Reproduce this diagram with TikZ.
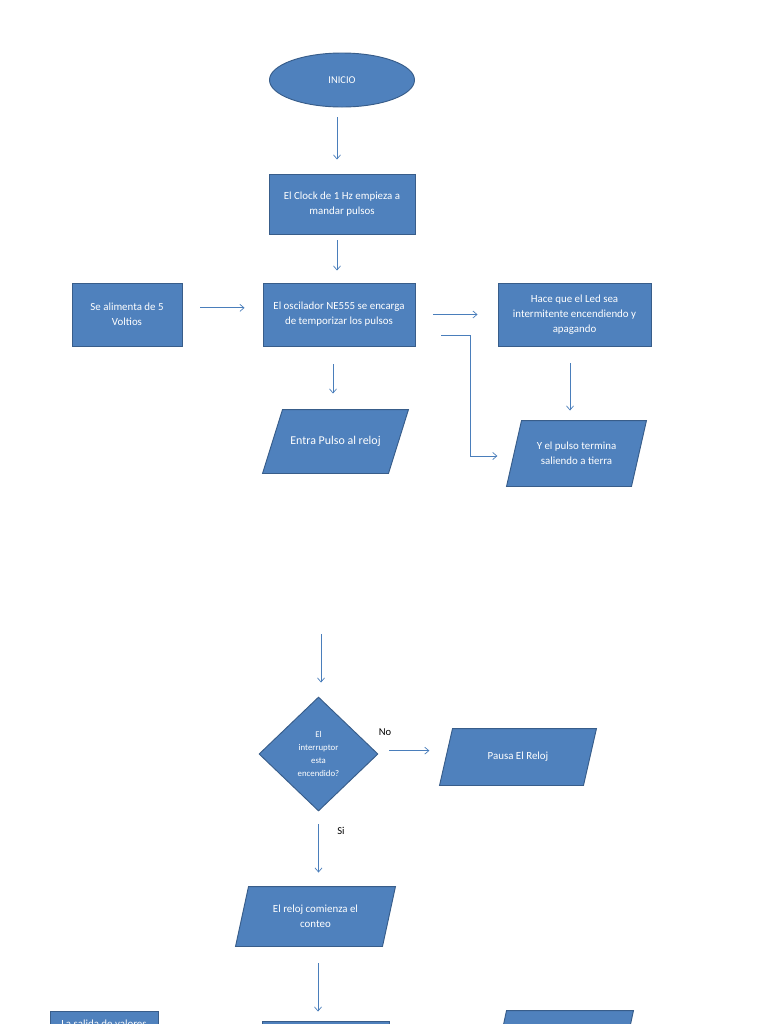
\documentclass[tikz,border=0pt]{standalone}
\usepackage{fontspec}
\setmainfont{Carlito}
\usepackage{xcolor}
\definecolor{fblue}{RGB}{79,129,189}
\definecolor{dblue}{RGB}{56,93,138}
\definecolor{ablue}{RGB}{74,126,187}
\usepackage{tikz}
\usetikzlibrary{arrows.meta,shapes.geometric,calc,backgrounds}
% parallelogram drawn behind a text node: #1 node name, #2 slant
\newcommand{\ioframe}[2]{%
  \begin{scope}[on background layer]
    \draw[draw=dblue,line width=0.8pt,fill=fblue]
      ([xshift=-#2/2]#1.south west) -- ([xshift=#2/2]#1.north west) --
      ([xshift=#2/2]#1.north east) -- ([xshift=-#2/2]#1.south east) -- cycle;
  \end{scope}}

\begin{document}
\begin{tikzpicture}[
  x=0.03cm, y=-0.03cm,
  base/.style={draw=dblue,line width=0.8pt,fill=fblue,text=white,align=center,inner sep=2pt,font=\fontsize{9.3}{12.8}\selectfont},
  pbox/.style={base,rectangle},
  obox/.style={base,ellipse,font=\fontsize{8.9}{12}\selectfont},
  dbox/.style={base,diamond,inner sep=0pt,font=\fontsize{7.5}{11}\selectfont},
  iobox/.style={base,rectangle,draw=none,fill=none},
  lbl/.style={font=\fontsize{9}{11}\selectfont},
  arrow/.style={-{Straight Barb[length=3.5pt,width=6pt]},ablue,line width=0.6pt}
]
  \useasboundingbox (0,0) rectangle (768,1024);
  \clip (0,0) rectangle (768,1024);

  % Inicio
  \node[obox,minimum width=4.35cm,minimum height=1.62cm] (inicio) at (342,80) {INICIO};
  \node[pbox,minimum width=4.38cm,minimum height=1.8cm] (clock) at (342,204) {El Clock de 1 Hz empieza a\\mandar pulsos};

  % Oscilador
  \node[pbox,minimum width=3.3cm,minimum height=1.89cm] (alim) at (127,314.5) {Se alimenta de 5\\Voltios};
  \node[pbox,minimum width=4.56cm,minimum height=1.89cm] (osc) at (339,314.5) {El oscilador NE555 se encarga\\de temporizar los pulsos};
  \node[pbox,minimum width=4.59cm,minimum height=1.89cm] (led) at (574.5,314.5) {Hace que el Led sea\\intermitente encendiendo y\\apagando};
  \node[iobox,minimum width=3.75cm,minimum height=1.89cm,font=\fontsize{10.2}{13}\selectfont] (entra) at (335.5,441.5) {Entra Pulso al reloj};
  \ioframe{entra}{0.6cm}
  \node[iobox,minimum width=3.72cm,minimum height=1.95cm] (tierra) at (576.5,453.5) {Y el pulso termina\\saliendo a tierra};
  \ioframe{tierra}{0.45cm}

  % Interruptor
  \coordinate (entrada) at (321,634);
  \node[dbox,minimum width=3.57cm,minimum height=3.42cm] (inter) at (318.5,754) {El\\interruptor\\esta\\encendido?};
  \node[iobox,minimum width=4.29cm,minimum height=1.68cm] (pausa) at (518,757) {Pausa El Reloj};
  \ioframe{pausa}{0.39cm}
  \node[iobox,minimum width=4.38cm,minimum height=1.77cm] (conteo) at (315.5,916.5) {El reloj comienza el\\conteo};
  \ioframe{conteo}{0.39cm}
  \node[lbl] (no) at (385,732) {No};
  \node[lbl] (si) at (341,831) {Si};

  % Salida
  \node[pbox,anchor=north,minimum width=3.24cm,inner ysep=0.26cm,text depth=1.4cm] (salida) at (104,1011) {La salida de valores};
  \node[pbox,minimum width=3.81cm,minimum height=1.89cm] (cuenta) at (325.5,1052.5) {};
  \node[iobox,minimum width=3.78cm,minimum height=1.8cm] (fin) at (563.5,1041) {};
  \ioframe{fin}{0.39cm}

  % Arrows
  \draw[arrow,shorten <=0.3cm,shorten >=0.42cm] ([xshift=-0.15cm]inicio.south) -- ([xshift=-0.15cm]inicio.south |- clock.north);
  \draw[arrow,shorten <=0.18cm,shorten >=0.36cm] ([xshift=-0.15cm]clock.south) -- ([xshift=-0.15cm]clock.south |- osc.north);
  \draw[arrow,shorten <=0.54cm,shorten >=0.54cm] ([yshift=0.2cm]alim.east) -- ([yshift=0.2cm]alim.east -| osc.west);
  \draw[arrow,shorten <=0.54cm,shorten >=0.6cm] (osc.east) -- (osc.east -| led.west);
  \draw[arrow,shorten <=0.54cm,shorten >=0.48cm] ([xshift=-0.18cm]osc.south) -- ([xshift=-0.18cm]osc.south |- entra.north);
  \draw[arrow] ([xshift=0.78cm,yshift=-0.62cm]osc.east) -- ++(29,0) |- ([xshift=-0.5cm,yshift=-0.075cm]tierra.west);
  \draw[arrow,shorten <=0.51cm,shorten >=0.3cm] ([xshift=-0.135cm]led.south) -- ([xshift=-0.135cm]led.south |- tierra.north);
  \draw[arrow,shorten >=0.42cm] (entrada) -- (entrada |- inter.north);
  \draw[arrow,shorten <=0.33cm,shorten >=0.5cm] ([yshift=0.1cm]inter.east) -- ([yshift=0.1cm]inter.east -| pausa.west);
  \draw[arrow,shorten <=0.39cm,shorten >=0.42cm] (inter.south) -- (inter.south |- conteo.north);
  \draw[arrow,shorten <=0.51cm,shorten >=0.27cm] ([xshift=0.075cm]conteo.south) -- ([xshift=0.075cm]conteo.south |- cuenta.north);
\end{tikzpicture}
\end{document}
